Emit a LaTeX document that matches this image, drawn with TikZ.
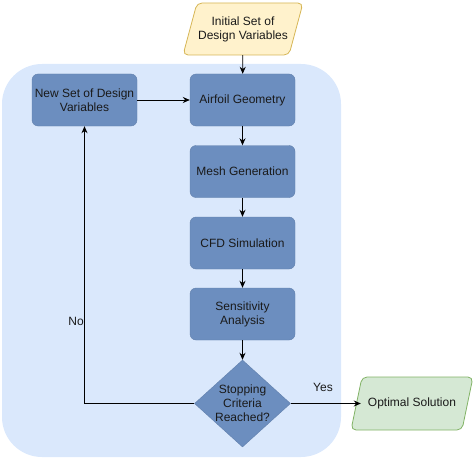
\documentclass[tikz,border=0pt]{standalone}
\usepackage{fontspec}
\setmainfont{Liberation Sans}
\usetikzlibrary{shapes.geometric,arrows.meta}
\definecolor{bgblue}{HTML}{DAE8FC}
\definecolor{boxblue}{HTML}{6C8EBF}
\definecolor{yelfill}{HTML}{FFF2CC}
\definecolor{yelline}{HTML}{D6B656}
\definecolor{grnfill}{HTML}{D5E8D4}
\definecolor{grnline}{HTML}{82B366}
\definecolor{txt}{HTML}{1A1A1A}
\tikzset{
  procbox/.style={draw=boxblue!90!black, line width=0.4pt, fill=boxblue, rounded corners=6pt,
    minimum width=105pt, minimum height=52pt, align=center, text=txt, font=\fontsize{12}{14}\selectfont, inner sep=1pt},
  iotext/.style={minimum width=100pt, minimum height=52pt, align=center, inner sep=1pt,
    text=txt, font=\fontsize{12}{14}\selectfont},
  ioshape/.style={rounded corners=5pt, line width=0.8pt},
  decbox/.style={diamond, fill=boxblue, draw=boxblue!90!black, line width=0.4pt, aspect=1.1,
    minimum width=96pt, minimum height=87pt, inner sep=0pt, align=center, text=txt,
    font=\fontsize{12}{14}\selectfont},
  conn/.style={-{Stealth[length=7pt,width=6pt]}, line width=0.8pt, black},
  lbl/.style={font=\fontsize{12}{14}\selectfont, text=txt, inner sep=0pt}
}
\begin{document}
\begin{tikzpicture}[x=1pt,y=-1pt]
\useasboundingbox (0,0) rectangle (474,476);
\node[fill=bgblue, rounded corners=40pt, minimum width=339pt, minimum height=393pt, inner sep=0pt, draw=none] (loop) at (171.5,260.5) {};
% initial parallelogram
\draw[ioshape, draw=yelline, fill=yelfill] (197,3) -- (303,3) -- (289,55) -- (183,55) -- cycle;
\node[iotext] (init) at (243,29) {Initial Set of\\Design Variables};
\node[procbox] (geo) at (242.5,100) {Airfoil Geometry};
\node[procbox] (newset) at (84.5,100) {New Set of Design\\Variables};
\node[procbox] (mesh) at (242.5,171.5) {Mesh Generation};
\node[procbox] (cfd) at (242.5,243) {CFD Simulation};
\node[procbox] (sens) at (242.5,314) {Sensitivity\\Analysis};
\node[decbox] (stop) at (242.5,403.5) {Stopping\\Criteria\\Reached?};
% optimal parallelogram
\draw[ioshape, draw=grnline, fill=grnfill] (362,377) -- (473,377) -- (462,430) -- (351,430) -- cycle;
\node[iotext, minimum width=102pt] (opt) at (412,403.5) {Optimal Solution};
\coordinate (corner) at (84.5,403.5);
\draw[conn] (init) -- (geo);
\draw[conn] (newset) -- (geo);
\draw[conn] (geo) -- (mesh);
\draw[conn] (mesh) -- (cfd);
\draw[conn] (cfd) -- (sens);
\draw[conn] (sens) -- (stop);
\draw[conn] (stop) -- (opt);
\draw[conn] (stop) -- (corner) -- (newset);
\node[lbl] (yes) at (323,387) {Yes};
\node[lbl, anchor=east] (no) at (84,321) {No};
\end{tikzpicture}
\end{document}
